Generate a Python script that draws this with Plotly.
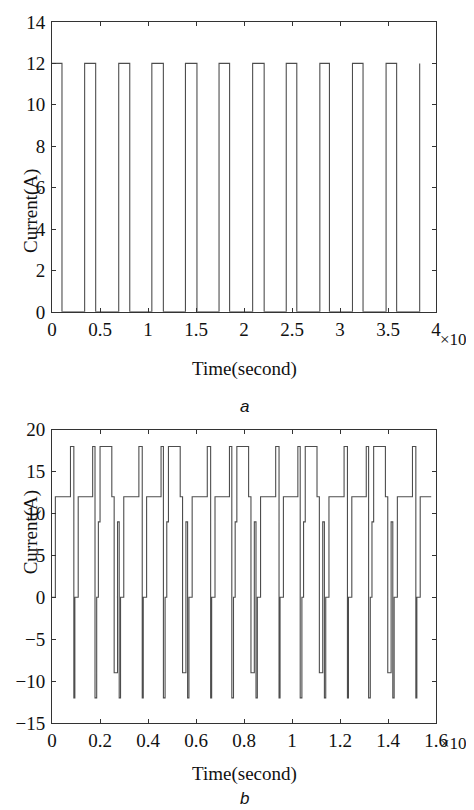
import plotly.graph_objects as go
from plotly.subplots import make_subplots

# panel a: step transitions (seconds) and current levels (A)
a_time = [0, 1040, 3400, 4550, 6950, 8100, 10400, 11600, 13900, 15100,
          17400, 18500, 20900, 22100, 24400, 25500, 27900, 28900,
          31300, 32400, 34800, 35900, 38300, 38300]
a_level = [12, 0, 12, 0, 12, 0, 12, 0, 12, 0,
           12, 0, 12, 0, 12, 0, 12, 0,
           12, 0, 12, 0, 12, 12]

# panel b: step transitions (seconds) and current levels (A)
b_time = [0,
          140, 770, 910, 952, 1092, 1694, 1792, 1862, 1932, 2002, 2492, 2590, 2730, 2800, 2856,
          2990, 3620, 3760, 3802, 3942, 4544, 4642, 4712, 4782, 4852, 5342, 5440, 5580, 5650, 5706,
          5840, 6470, 6610, 6652, 6792, 7394, 7492, 7562, 7632, 7702, 8192, 8290, 8430, 8500, 8556,
          8690, 9320, 9460, 9502, 9642, 10244, 10342, 10412, 10482, 10552, 11042, 11140, 11280, 11350, 11406,
          11540, 12170, 12310, 12352, 12492, 13094, 13192, 13262, 13332, 13402, 13892, 13990, 14130, 14200, 14256,
          14390, 15020, 15160, 15202, 15342, 15800]
b_level = [0,
           12, 18, -12, 0, 12, 18, -12, 0, 9, 18, 12, -9, 9, -12, 0,
           12, 18, -12, 0, 12, 18, -12, 0, 9, 18, 12, -9, 9, -12, 0,
           12, 18, -12, 0, 12, 18, -12, 0, 9, 18, 12, -9, 9, -12, 0,
           12, 18, -12, 0, 12, 18, -12, 0, 9, 18, 12, -9, 9, -12, 0,
           12, 18, -12, 0, 12, 18, -12, 0, 9, 18, 12, -9, 9, -12, 0,
           12, 18, -12, 0, 12, 12]

a_ticks = [0, 0.5, 1, 1.5, 2, 2.5, 3, 3.5, 4]
b_ticks = [0, 0.2, 0.4, 0.6, 0.8, 1, 1.2, 1.4, 1.6]

serif = "Liberation Serif"
line_color = "#4d4d4d"

fig = make_subplots(rows=2, cols=1)
fig.add_trace(go.Scatter(x=a_time, y=a_level, mode="lines", line=dict(shape="hv", color=line_color, width=1.1),
                         showlegend=False), row=1, col=1)
fig.add_trace(go.Scatter(x=b_time, y=b_level, mode="lines", line=dict(shape="hv", color=line_color, width=1.1),
                         showlegend=False), row=2, col=1)

axis_style = dict(showgrid=False, zeroline=False, showline=True, linecolor="#333333", linewidth=1,
                  mirror="ticks", ticks="inside", ticklen=4, tickcolor="#333333",
                  tickfont=dict(family=serif, size=19, color="#111111"))

fig.update_layout(
    width=474, height=810,
    margin=dict(l=44, r=46, t=4, b=95),
    plot_bgcolor="white", paper_bgcolor="white",
    xaxis=dict(domain=[0, 1], range=[0, 40000], tickvals=[v * 10000 for v in a_ticks],
               ticktext=[f"{v:g}" for v in a_ticks], ticklabelstandoff=0, **axis_style),
    yaxis=dict(domain=[0.5865, 1], range=[0, 14], dtick=2, ticklabelstandoff=2, **axis_style),
    xaxis2=dict(domain=[0, 1], range=[0, 16000], tickvals=[v * 10000 for v in b_ticks],
                ticktext=[f"{v:g}" for v in b_ticks], ticklabelstandoff=0, **axis_style),
    yaxis2=dict(domain=[0, 0.4184], range=[-15, 20], dtick=5, ticklabelstandoff=2, **axis_style),
)

ann_font = dict(family=serif, size=19, color="#111111")
exp_font = dict(family=serif, size=17, color="#111111")
notes = [
    dict(text="Time(second)", x=0.5, y=0.5865, yshift=-57, xref="paper", yref="paper", font=ann_font),
    dict(text="Current(A)", x=0, xshift=-34, y=0.7932, xref="paper", yref="paper", textangle=-90, font=ann_font),
    dict(text="×10<sup>4</sup>", x=1, xanchor="left", xshift=2, y=0.5865, yshift=-26,
         xref="paper", yref="paper", font=exp_font),
    dict(text="<i>a</i>", x=0.5, y=0.5865, yshift=-95, xref="paper", yref="paper",
         font=dict(family="Liberation Sans", size=17, color="#111111")),
    dict(text="Time(second)", x=0.5, y=0, yshift=-64, xref="paper", yref="paper", font=ann_font),
    dict(text="Current(A)", x=0, xshift=-34, y=0.2092, xref="paper", yref="paper", textangle=-90, font=ann_font),
    dict(text="×10<sup>4</sup>", x=1, xanchor="left", xshift=2, y=0, yshift=-32,
         xref="paper", yref="paper", font=exp_font),
    dict(text="<i>b</i>", x=0.5, y=0, yshift=-87, xref="paper", yref="paper",
         font=dict(family="Liberation Sans", size=17, color="#111111")),
]
for n in notes:
    fig.add_annotation(showarrow=False, **n)

fig.write_html("out.html")
